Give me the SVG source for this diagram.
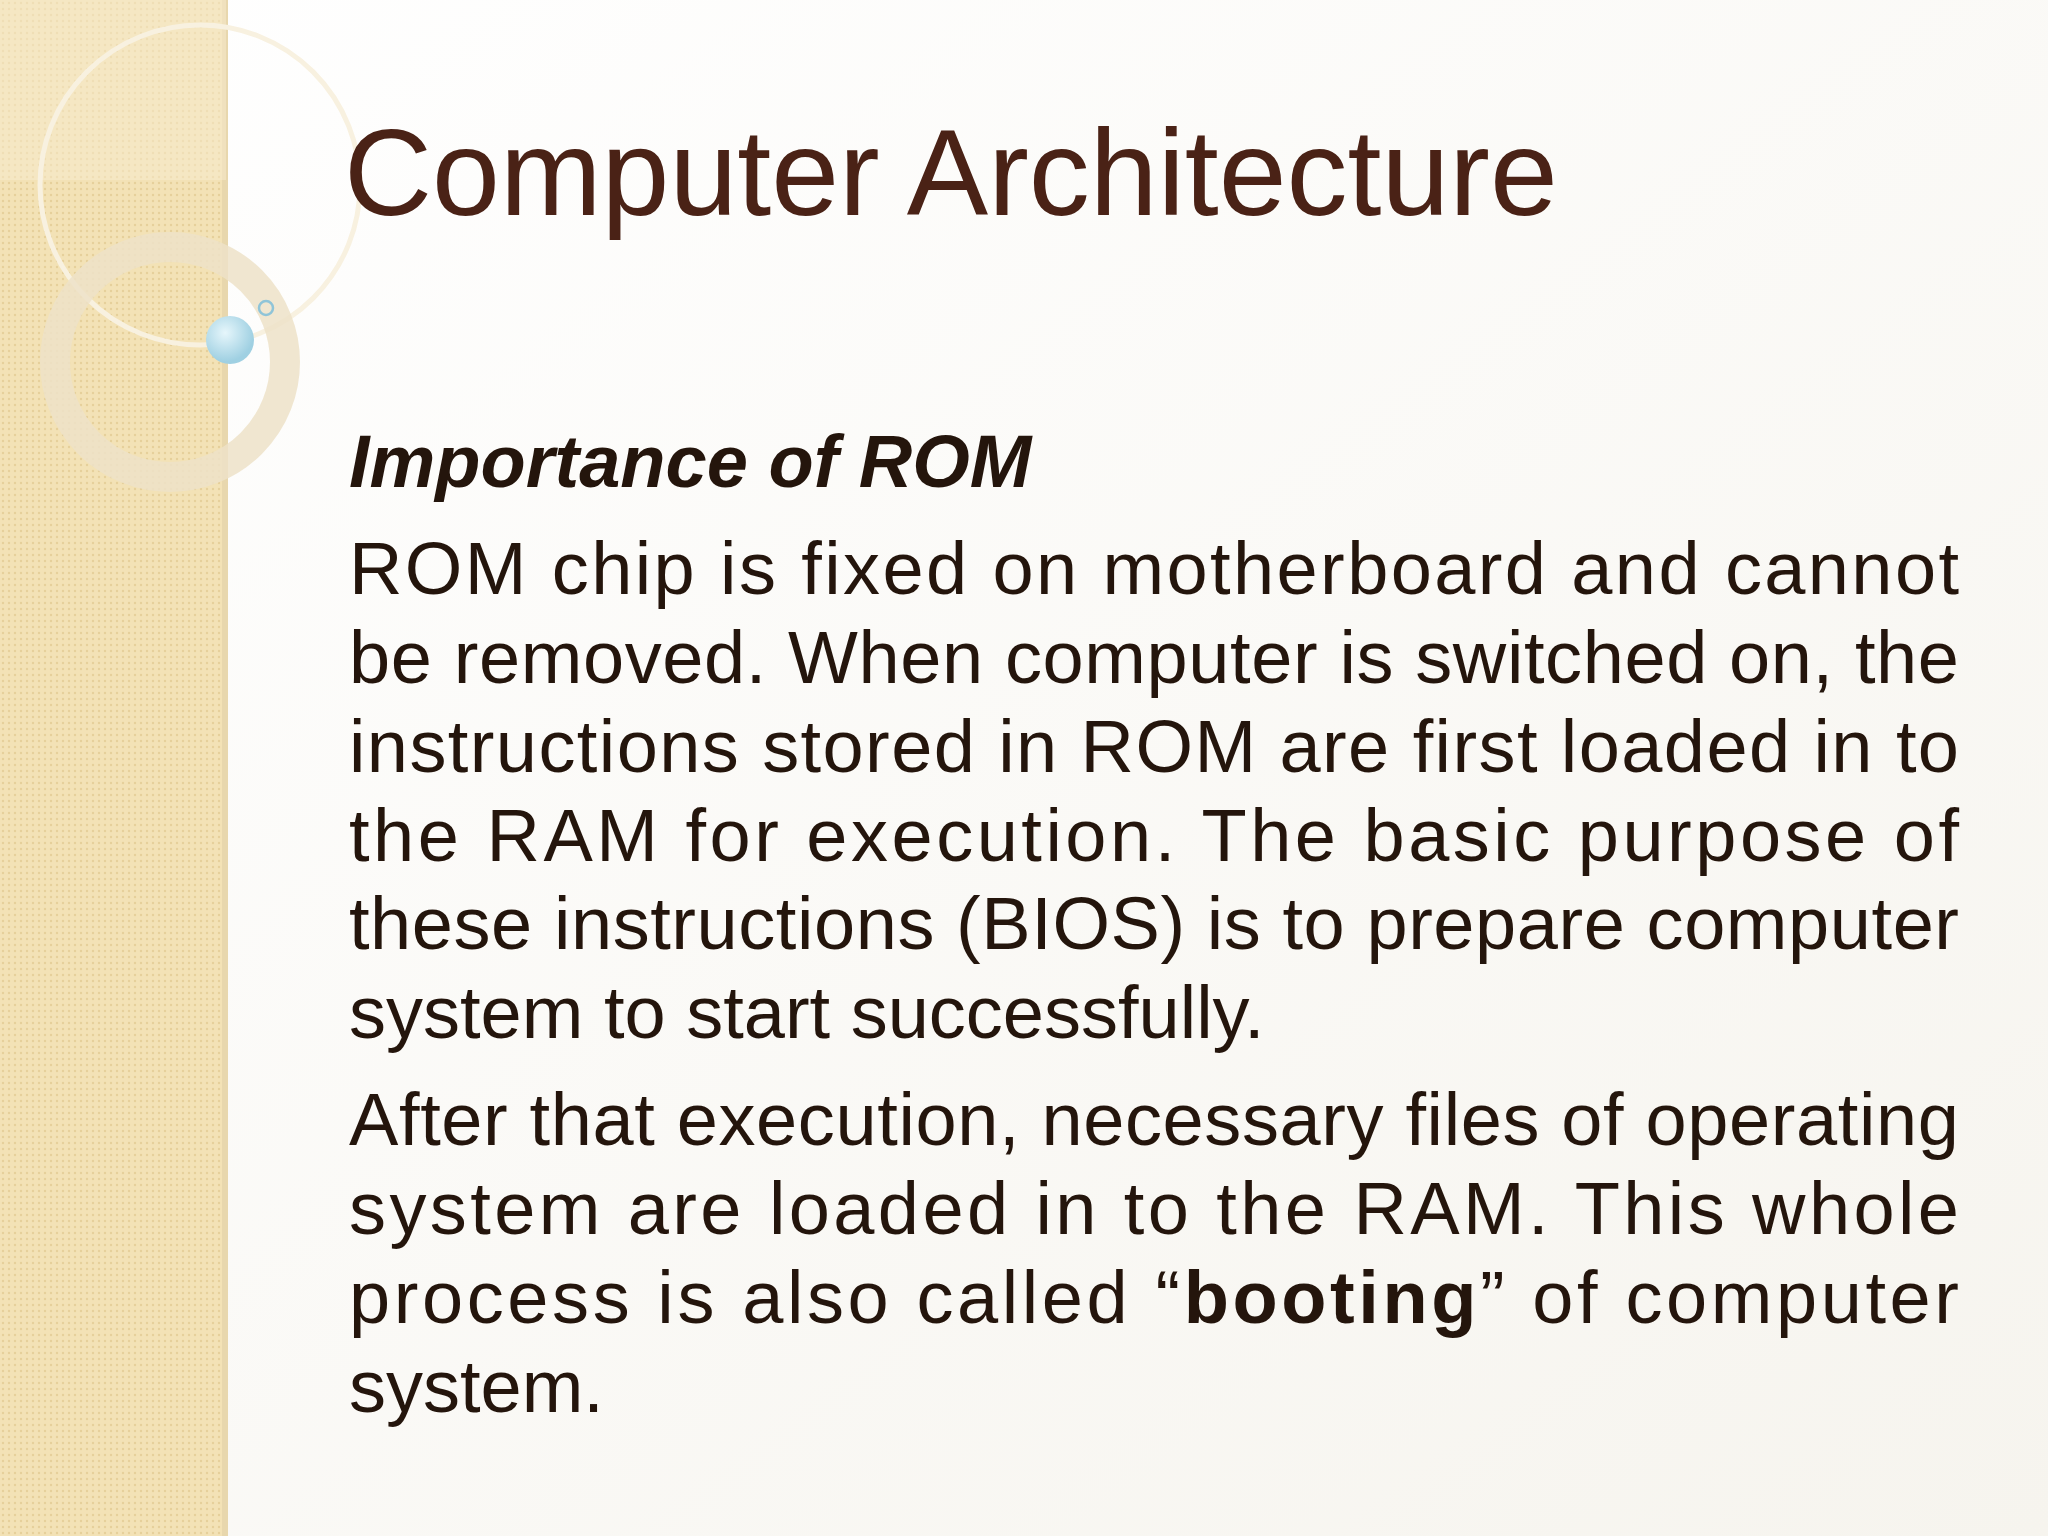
<svg xmlns="http://www.w3.org/2000/svg" width="2048" height="1536" viewBox="0 0 2048 1536">
<defs>
<pattern id="dots" width="6" height="6" patternUnits="userSpaceOnUse"><rect width="6" height="6" fill="#f3e2b6"/><circle cx="3" cy="3" r="1.2" fill="#e6d09a"/></pattern>
<linearGradient id="bg" x1="0" y1="0" x2="1" y2="1"><stop offset="0" stop-color="#ffffff"/><stop offset="1" stop-color="#f6f4ee"/></linearGradient>
<radialGradient id="bub" cx="0.4" cy="0.35" r="0.6"><stop offset="0" stop-color="#e6f6fb"/><stop offset="1" stop-color="#9fd0e2"/></radialGradient>
</defs>
<style>
.b{font-family:"Liberation Sans",Arial,sans-serif;font-size:74px;fill:#24150c}
</style>
<rect width="2048" height="1536" fill="url(#bg)"/>
<g id="panel">
<rect x="0" y="0" width="226" height="1536" fill="url(#dots)"/>
<rect x="222" y="0" width="6" height="1536" fill="#e8d7ad"/>
<path d="M0 0 H226 V180 H0 Z" fill="#f7ecd0" opacity="0.5"/>
<circle cx="200" cy="185" r="160" fill="none" stroke="#f8f1e0" stroke-width="5"/>
<circle cx="170" cy="362" r="115" fill="none" stroke="#ede2c8" stroke-width="30" opacity="0.85"/>
<circle cx="230" cy="340" r="24" fill="url(#bub)"/>
<circle cx="266" cy="308" r="7" fill="none" stroke="#8fc4d8" stroke-width="2.5"/>
</g>
<g id="title"><text x="344" y="215" font-family="'Liberation Sans',Arial,sans-serif" font-size="122" fill="#4a2216">Computer Architecture</text></g>
<g id="body">
<text class="b" x="349" y="487" font-weight="bold" font-style="italic">Importance of ROM</text>
<text class="b" x="349" y="594" textLength="1610" lengthAdjust="spacing">ROM chip is fixed on motherboard and cannot</text>
<text class="b" x="349" y="683" textLength="1610" lengthAdjust="spacing">be removed. When computer is switched on, the</text>
<text class="b" x="349" y="772" textLength="1610" lengthAdjust="spacing">instructions stored in ROM are first loaded in to</text>
<text class="b" x="349" y="861" textLength="1610" lengthAdjust="spacing">the RAM for execution. The basic purpose of</text>
<text class="b" x="349" y="949" textLength="1610" lengthAdjust="spacing">these instructions (BIOS) is to prepare computer</text>
<text class="b" x="349" y="1038">system to start successfully.</text>
<text class="b" x="349" y="1145" textLength="1610" lengthAdjust="spacing">After that execution, necessary files of operating</text>
<text class="b" x="349" y="1234" textLength="1610" lengthAdjust="spacing">system are loaded in to the RAM. This whole</text>
<text class="b" x="349" y="1323" textLength="1610" lengthAdjust="spacing">process is also called “<tspan font-weight="bold">booting</tspan>” of computer</text>
<text class="b" x="349" y="1412">system.</text>
</g>
</svg>
